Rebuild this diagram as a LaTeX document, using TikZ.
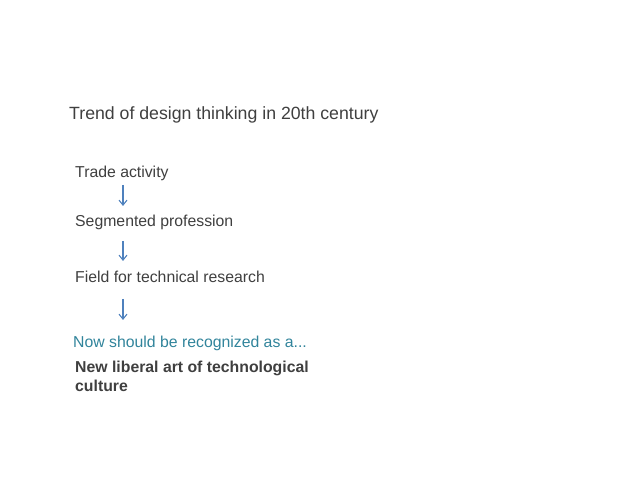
\documentclass[tikz,border=0pt]{standalone}
\usepackage{fontspec}
\setmainfont{Liberation Sans}
\usetikzlibrary{arrows.meta}
\definecolor{txtgray}{HTML}{3F3F3F}
\definecolor{tealtxt}{HTML}{31849B}
\definecolor{arrowblue}{HTML}{4F81BD}
\begin{document}
\begin{tikzpicture}[x=1pt,y=-1pt,
  lbl/.style={anchor=mid west,inner sep=0pt,text=txtgray,font=\fontsize{15.8}{18.5}\selectfont},
  flowarrow/.style={draw=arrowblue,line width=1.1pt,-{Straight Barb[length=5pt,width=8pt]}}]
\useasboundingbox (0,0) rectangle (638,478);
\node[lbl,font=\fontsize{17.7}{22}\selectfont] (title) at (69,117) {Trend of design thinking in 20th century};
\node[lbl] (trade) at (75,175) {Trade activity};
\node[lbl] (seg) at (75,224) {Segmented profession};
\node[lbl] (field) at (75,280) {Field for technical research};
\node[lbl,text=tealtxt] (now) at (73,345) {Now should be recognized as a...};
\node[lbl,font=\fontsize{15.8}{18.5}\selectfont\bfseries,align=left,anchor=north west] (art) at (75,361) {New liberal art of technological\\culture};
\coordinate (a1s) at (123,185); \coordinate (a1e) at (123,206);
\coordinate (a2s) at (123,241); \coordinate (a2e) at (123,261);
\coordinate (a3s) at (123,299); \coordinate (a3e) at (123,320);
\draw[flowarrow] (a1s) -- (a1e);
\draw[flowarrow] (a2s) -- (a2e);
\draw[flowarrow] (a3s) -- (a3e);
\end{tikzpicture}
\end{document}
